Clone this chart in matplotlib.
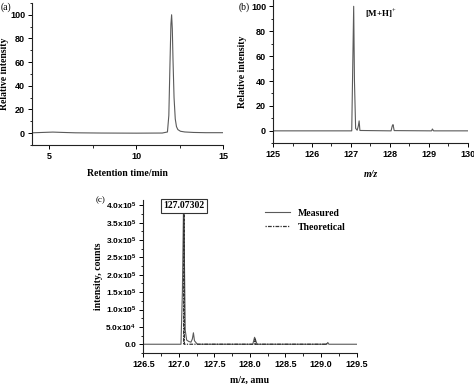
import matplotlib
matplotlib.use("Agg")
import matplotlib.pyplot as plt
from matplotlib.ticker import MultipleLocator, FuncFormatter

plt.rcParams["mathtext.fontset"] = "custom"
plt.rcParams["mathtext.bf"] = "Liberation Sans:bold"
plt.rcParams["mathtext.rm"] = "Liberation Serif"

# ---- data ----
# (a) chromatogram
rt_min = [4.0, 4.6, 5.2, 5.8, 6.5, 8.0, 10.0, 11.5, 11.8, 11.88, 11.94, 12.0, 12.04,
          12.08, 12.12, 12.18, 12.25, 12.32, 12.4, 12.55, 12.8, 13.3, 14.0, 15.0]
rt_int = [0.3, 0.6, 0.9, 0.6, 0.3, 0.1, 0.0, 0.1, 1.0, 15.0, 55.0, 92.0, 100.0,
          88.0, 62.0, 30.0, 12.0, 5.5, 3.0, 1.6, 1.0, 0.6, 0.4, 0.4]

# (b) mass spectrum (relative)
mz_b = [125.0, 127.02, 127.05, 127.07, 127.09, 127.12, 127.16, 127.19, 127.21, 127.23,
        128.03, 128.06, 128.08, 128.11, 129.07, 129.09, 129.12, 130.0]
int_b = [0.0, 0.0, 60.0, 100.0, 40.0, 2.0, 0.5, 4.0, 8.0, 0.3,
         0.0, 4.0, 5.0, 0.2, 0.0, 1.5, 0.0, 0.0]

# (c) measured vs theoretical
mz_meas = [126.5, 127.03, 127.05, 127.065, 127.075, 127.09, 127.11, 127.14, 127.17,
           127.19, 127.205, 127.22, 127.26, 128.04, 128.065, 128.08, 128.1,
           129.08, 129.095, 129.11, 129.5]
int_meas = [0.0, 0.0, 1.5e5, 3.85e5, 3.0e5, 4.0e4, 1.2e4, 8.0e3, 6.0e3,
            1.5e4, 3.3e4, 1.0e4, 0.0, 0.0, 2.0e4, 1.2e4, 0.0,
            0.0, 5.0e3, 0.0, 0.0]
mz_theo = [127.068, 127.073, 127.078, 128.068, 128.073, 128.078, 129.068, 129.073, 129.078]
int_theo = [0.0, 3.85e5, 0.0, 0.0, 1.5e4, 0.0, 0.0, 3.0e3, 0.0]

peak_label = "127.07302"
series_names = ["Measured", "Theoretical"]

# ---- style ----
TICKFONT = dict(family="Liberation Sans", weight="bold", size=6.5)
LABFONT = dict(family="Liberation Serif", weight="bold", size=7)
LINE_C = "#5a5a5a"

fig = plt.figure(figsize=(4.74, 3.84), dpi=100)

def style(ax):
    ax.spines["top"].set_visible(False)
    ax.spines["right"].set_visible(False)
    for s in ("left", "bottom"):
        ax.spines[s].set_linewidth(0.8)
        ax.spines[s].set_color("#222222")
    ax.tick_params(which="major", direction="out", length=3, width=0.7, pad=2)
    ax.tick_params(which="minor", direction="out", length=1.8, width=0.6)
    for lab in ax.get_xticklabels() + ax.get_yticklabels():
        lab.set_fontfamily(TICKFONT["family"])
        lab.set_fontweight(TICKFONT["weight"])
        lab.set_fontsize(TICKFONT["size"])

# (a)
axa = fig.add_axes([0.0675, 0.6224, 0.403, 0.370])
axa.plot(rt_min, rt_int, color=LINE_C, lw=0.8)
axa.set_xlim(4, 15)
axa.set_ylim(-10, 110)
axa.set_yticks([0, 20, 40, 60, 80, 100])
axa.set_xticks([5, 10, 15])
axa.xaxis.set_minor_locator(MultipleLocator(2.5))
axa.yaxis.set_minor_locator(MultipleLocator(10))
axa.set_xlabel("Retention time/min", fontdict=LABFONT, labelpad=6)
axa.set_ylabel("Relative intensity", fontdict=LABFONT, labelpad=1)
style(axa)
fig.text(0.002, 0.995, "(a)", ha="left", va="top", family="Liberation Serif", size=7)

# (b)
axb = fig.add_axes([0.576, 0.6268, 0.411, 0.373])
axb.plot(mz_b, int_b, color=LINE_C, lw=0.8)
axb.set_xlim(125, 130)
axb.set_ylim(-10, 105)
axb.set_yticks([0, 20, 40, 60, 80, 100])
axb.set_xticks([125, 126, 127, 128, 129, 130])
axb.xaxis.set_minor_locator(MultipleLocator(0.5))
axb.yaxis.set_minor_locator(MultipleLocator(10))
axb.set_xlabel("m/z", fontdict=dict(LABFONT, style="italic"), labelpad=8)
axb.set_ylabel("Relative intensity", fontdict=LABFONT, labelpad=3)
axb.text(127.35, 94, r"[M+H]$^{+}$", ha="left", va="center",
         family="Liberation Serif", weight="bold", size=6.5)
style(axb)
fig.text(0.504, 0.995, "(b)", ha="left", va="top", family="Liberation Serif", size=7)

# (c)
axc = fig.add_axes([0.3023, 0.080, 0.450, 0.399])
axc.plot(mz_meas, int_meas, color=LINE_C, lw=0.8, label=series_names[0])
axc.plot(mz_theo, int_theo, color="#333333", lw=0.9, ls=(0, (1, 1, 3, 1)),
         label=series_names[1])
axc.set_xlim(126.5, 129.5)
axc.set_ylim(-2.6e4, 4.15e5)
axc.set_xticks([126.5, 127.0, 127.5, 128.0, 128.5, 129.0, 129.5])
axc.xaxis.set_major_formatter(FuncFormatter(lambda v, p: f"{v:.1f}"))
axc.xaxis.set_minor_locator(MultipleLocator(0.25))
axc.set_yticks([0, 5e4, 1e5, 1.5e5, 2e5, 2.5e5, 3e5, 3.5e5, 4e5])
axc.yaxis.set_minor_locator(MultipleLocator(2.5e4))

def sci(v, p):
    if v == 0:
        return "0.0"
    e = 0
    m = v
    while m >= 10:
        m /= 10
        e += 1
    return r"$\mathbf{%.1fx10^{%d}}$" % (m, e)

axc.yaxis.set_major_formatter(FuncFormatter(sci))
axc.set_xlabel("m/z, amu", fontdict=LABFONT, labelpad=5)
axc.set_ylabel("intensity, counts", fontdict=LABFONT, labelpad=2)
axc.text(127.073, 3.98e5, peak_label, ha="center", va="center",
         family="Liberation Serif", weight="bold", size=7,
         bbox=dict(boxstyle="square,pad=0.25", fc="white", ec="#333333", lw=0.8))
leg = axc.legend(loc="upper left", bbox_to_anchor=(0.53, 1.0), frameon=False,
                 prop=dict(family="Liberation Serif", weight="bold", size=7),
                 handlelength=2.6, handletextpad=0.8, labelspacing=0.5)
style(axc)
for lab in axc.get_yticklabels():
    lab.set_fontsize(6)
fig.text(0.201, 0.478, "(c)", ha="left", va="center", family="Liberation Serif", size=6.5)

fig.savefig("out.png", dpi=100)
